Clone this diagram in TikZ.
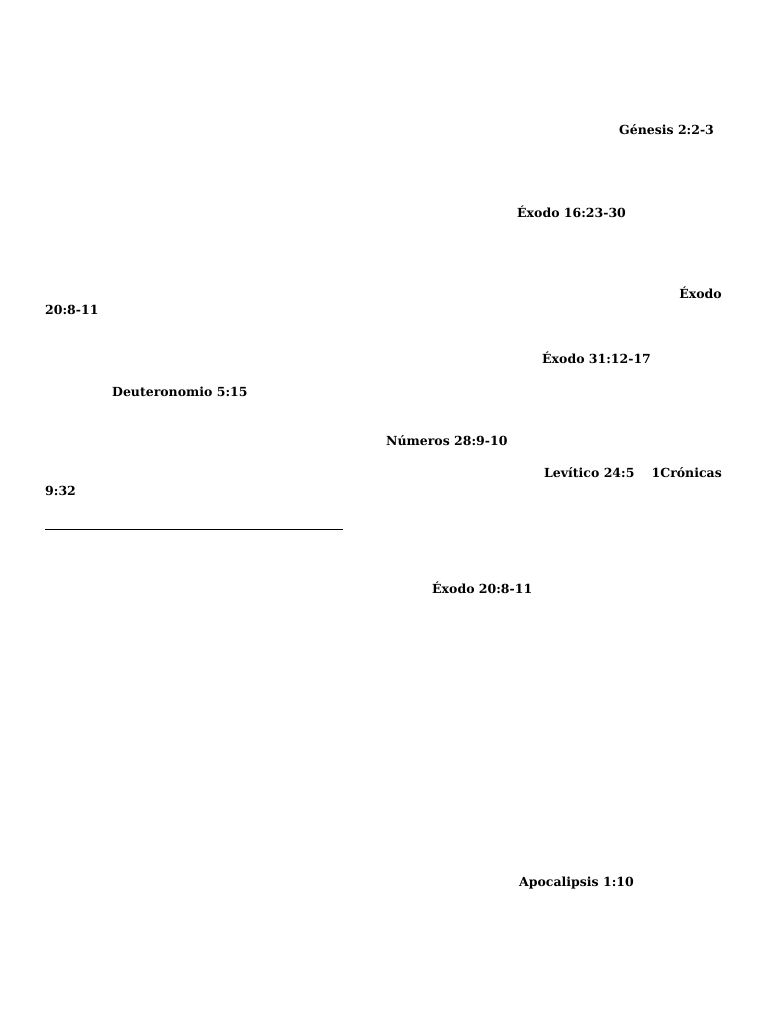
\documentclass[tikz,border=0pt]{standalone}
\usepackage{fontspec}
\setmainfont{DejaVu Serif}
\begin{document}
\begin{tikzpicture}[x=1pt,y=-1pt,
  lbl/.style={font=\fontsize{12.5}{14}\selectfont\bfseries,inner sep=0pt,anchor=west},
  lblr/.style={lbl,anchor=east}]
\useasboundingbox[fill=white] (0,0) rectangle (768,1024);
\node[lbl] (g) at (619,130) {Génesis 2:2-3};
\node[lbl] (e1) at (517,212) {Éxodo 16:23-30};
\node[lblr] (e2) at (722,293) {Éxodo};
\node[lbl] (e2b) at (45,310) {20:8-11};
\node[lbl] (e3) at (542,358) {Éxodo 31:12-17};
\node[lbl] (d) at (112,392) {Deuteronomio 5:15};
\node[lbl] (n) at (386,441) {Números 28:9-10};
\node[lbl] (l) at (544,473) {Levítico 24:5};
\node[lblr] (c) at (722,473) {1Crónicas};
\node[lbl] (cb) at (45,491) {9:32};
\coordinate (a) at (45,529);
\coordinate (b) at (343,529);
\draw[line width=0.8pt] (a) -- (b);
\node[lbl] (e4) at (432,588) {Éxodo 20:8-11};
\node[lbl] (ap) at (519,883) {Apocalipsis 1:10};
\end{tikzpicture}
\end{document}
